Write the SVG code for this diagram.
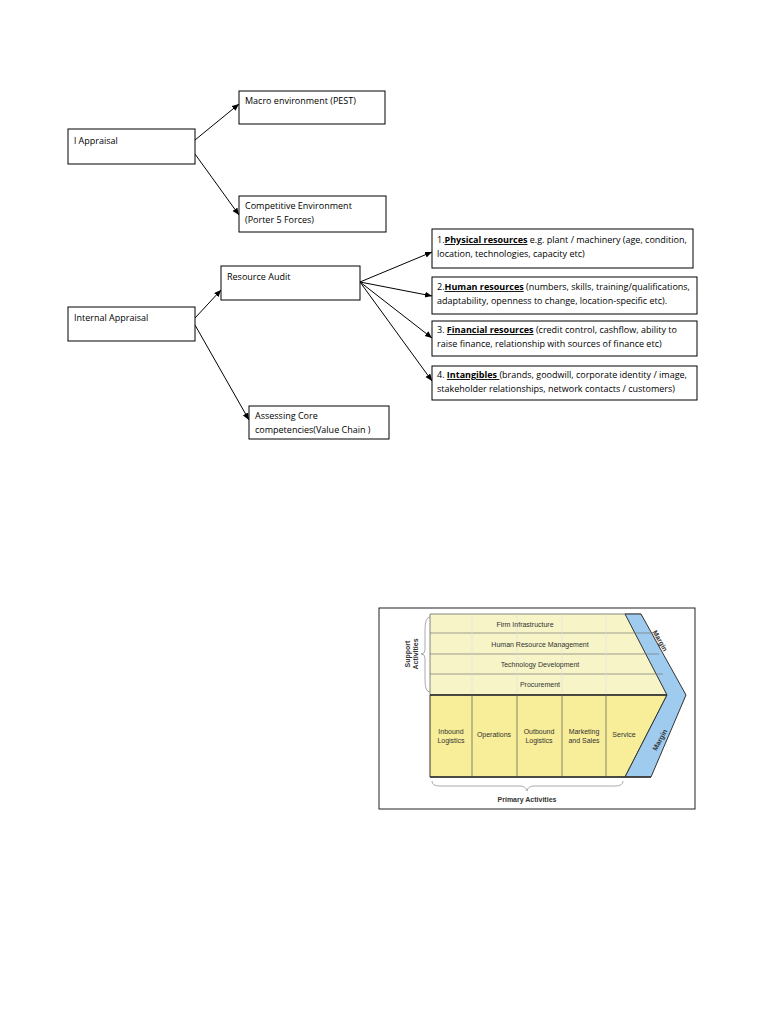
<svg xmlns="http://www.w3.org/2000/svg" width="768" height="1024" viewBox="0 0 768 1024">
<style>
.b{fill:#fff;stroke:#000;stroke-width:1}
.t{font-family:"Open Sans","Liberation Sans",sans-serif;font-size:9px;fill:#000}
.c{stroke:#000;stroke-width:1;fill:none;marker-end:url(#a)}
.v{font-family:"Liberation Sans",Arial,sans-serif;font-size:7px;fill:#333;text-anchor:middle}
.u{font-weight:bold;text-decoration:underline}
</style>
<defs><marker id="a" markerWidth="8" markerHeight="8" refX="7" refY="3" orient="auto" markerUnits="userSpaceOnUse"><path d="M0,0 L7,3 L0,6 z" fill="#000"/></marker></defs>
<rect width="768" height="1024" fill="#fff"/>
<g id="connectors">
<line class="c" x1="195" y1="140" x2="239" y2="104"/>
<line class="c" x1="195" y1="154" x2="239" y2="215"/>
<line class="c" x1="195" y1="318" x2="221" y2="290"/>
<line class="c" x1="195" y1="325" x2="249" y2="420"/>
<line class="c" x1="360" y1="282" x2="432" y2="252"/>
<line class="c" x1="360" y1="282" x2="432" y2="296"/>
<line class="c" x1="360" y1="282" x2="432" y2="338"/>
<line class="c" x1="360" y1="282" x2="432" y2="381"/>
</g>
<g id="lappraisal"><rect class="b" x="68" y="129" width="127" height="35"/><text class="t" x="74" y="144">l Appraisal</text></g>
<g id="macro"><rect class="b" x="239" y="91" width="146" height="33"/><text class="t" x="245" y="104">Macro environment (PEST)</text></g>
<g id="competitive"><rect class="b" x="239" y="196" width="147" height="36"/><text class="t" x="245" y="209">Competitive Environment</text><text class="t" x="245" y="223">(Porter 5 Forces)</text></g>
<g id="internal"><rect class="b" x="68" y="307" width="127" height="34"/><text class="t" x="74" y="321">Internal Appraisal</text></g>
<g id="audit"><rect class="b" x="221" y="266" width="139" height="34"/><text class="t" x="227" y="280">Resource Audit</text></g>
<g id="core"><rect class="b" x="249" y="406" width="140" height="33"/><text class="t" x="255" y="419">Assessing Core</text><text class="t" x="255" y="433">competencies(Value Chain )</text></g>
<g id="r1"><rect class="b" x="432" y="229" width="261" height="39"/><text class="t" x="437" y="243">1.<tspan class="u">Physical resources</tspan> e.g. plant  / machinery (age, condition,</text><text class="t" x="437" y="257">location, technologies, capacity etc)</text></g>
<g id="r2"><rect class="b" x="432" y="277" width="265" height="37"/><text class="t" x="437" y="290">2.<tspan class="u">Human resources</tspan> (numbers, skills, training/qualifications,</text><text class="t" x="437" y="304">adaptability, openness to     change, location-specific etc).</text></g>
<g id="r3"><rect class="b" x="432" y="321" width="265" height="35"/><text class="t" x="437" y="333">3. <tspan class="u">Financial resources</tspan> (credit control, cashflow, ability to</text><text class="t" x="437" y="347">raise finance, relationship with sources of finance etc)</text></g>
<g id="r4"><rect class="b" x="432" y="366" width="265" height="34"/><text class="t" x="437" y="378">4. <tspan class="u">Intangibles </tspan>(brands, goodwill, corporate identity / image,</text><text class="t" x="437" y="392">stakeholder relationships, network contacts / customers)</text></g>
<g id="valuechain">
<rect x="379" y="608" width="316" height="201" fill="#fff" stroke="#222" stroke-width="1"/>
<polygon points="430,614 641,614 667,695 430,695" fill="#f7f5c8" stroke="#555" stroke-width="0.7"/>
<polygon points="430,695 667,695 625,777 430,777" fill="#f8ee9a" stroke="#333" stroke-width="1"/>
<polygon points="625,614 641,614 686,695 651,777 625,777 667,695" fill="#9fcbef" stroke="#333" stroke-width="1"/>
<g stroke="#777" stroke-width="0.7">
<line x1="430" y1="633" x2="653" y2="633"/><line x1="430" y1="654" x2="659" y2="654"/><line x1="430" y1="674" x2="663" y2="674"/>
</g>
<g stroke="#ddd" stroke-width="0.6"><line x1="472" y1="614" x2="472" y2="695"/><line x1="517" y1="614" x2="517" y2="695"/><line x1="562" y1="614" x2="562" y2="695"/><line x1="606" y1="614" x2="606" y2="695"/></g>
<line x1="430" y1="695" x2="667" y2="695" stroke="#333" stroke-width="1.5"/>
<line x1="430" y1="777" x2="651" y2="777" stroke="#333" stroke-width="1.5"/>
<g stroke="#555" stroke-width="0.7"><line x1="472" y1="695" x2="472" y2="777"/><line x1="517" y1="695" x2="517" y2="777"/><line x1="562" y1="695" x2="562" y2="777"/><line x1="606" y1="695" x2="606" y2="777"/></g>
<text class="v" x="525" y="627">Firm Infrastructure</text>
<text class="v" x="540" y="647">Human Resource Management</text>
<text class="v" x="540" y="667">Technology Development</text>
<text class="v" x="540" y="687">Procurement</text>
<text class="v" x="451" y="734">Inbound</text><text class="v" x="451" y="743">Logistics</text>
<text class="v" x="494" y="737">Operations</text>
<text class="v" x="539" y="734">Outbound</text><text class="v" x="539" y="743">Logistics</text>
<text class="v" x="584" y="734">Marketing</text><text class="v" x="584" y="743">and Sales</text>
<text class="v" x="624" y="737">Service</text>
<text class="v" font-weight="bold" transform="translate(658,642) rotate(60)">Margin</text>
<text class="v" font-weight="bold" transform="translate(662,741) rotate(-62)">Margin</text>
<text class="v" font-weight="bold" font-size="8" transform="translate(410,654) rotate(-90)">Support</text>
<text class="v" font-weight="bold" font-size="8" transform="translate(418,654) rotate(-90)">Activities</text>
<path d="M430,617 Q425,617 425,630 L425,650 Q425,654 421,654 Q425,654 425,658 L425,680 Q425,692 430,692" fill="none" stroke="#888" stroke-width="0.7"/>
<path d="M432,781 Q432,786 440,786 L520,786 Q526,786 527,791 Q528,786 534,786 L615,786 Q623,786 623,781" fill="none" stroke="#888" stroke-width="0.7"/>
<text class="v" font-weight="bold" font-size="8" x="527" y="802">Primary Activities</text>
</g>
</svg>
